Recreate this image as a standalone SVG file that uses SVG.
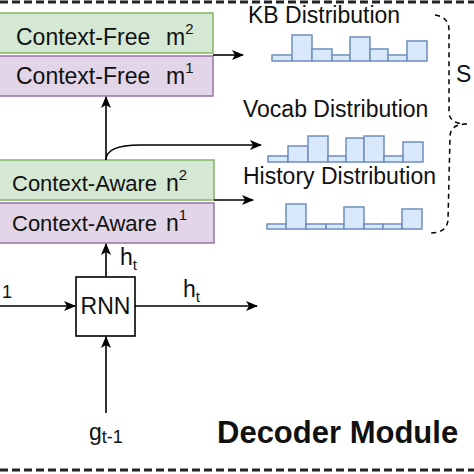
<svg xmlns="http://www.w3.org/2000/svg" width="474" height="474" viewBox="0 0 474 474">
<style>
text{font-family:"Liberation Sans",Arial,sans-serif;fill:#111}
.lbl{font-size:23px}
.sup{font-size:15px}
.free{fill:#d5e8d4;stroke:#82b366;stroke-width:1.5}
.aware{fill:#e1d5e7;stroke:#9673a6;stroke-width:1.5}
.bar{fill:#dae8fc;stroke:#6c8ebf;stroke-width:1.5}
.edge{fill:none;stroke:#000;stroke-width:1.6}
.border{fill:none;stroke:#222;stroke-width:3;stroke-dasharray:8 4}
</style>
<defs>
<marker id="arr" viewBox="0 0 12 10" refX="11" refY="5" markerWidth="12" markerHeight="10" markerUnits="userSpaceOnUse" orient="auto">
<path d="M0,0 L12,5 L0,10 L3,5 z" fill="#000"/>
</marker>
</defs>
<rect width="474" height="474" fill="#fff"/>
<line class="border" x1="0" y1="2" x2="474" y2="2"/>
<line class="border" x1="0" y1="470" x2="474" y2="470"/>

<g id="cf-m2"><rect class="free" x="-2" y="13" width="215" height="40"/><text class="lbl" x="16" y="45">Context-Free<tspan x="166">m</tspan><tspan class="sup" dy="-11">2</tspan></text></g>
<g id="cf-m1"><rect class="aware" x="-2" y="56" width="215" height="40"/><text class="lbl" x="16" y="84">Context-Free<tspan x="166">m</tspan><tspan class="sup" dy="-11">1</tspan></text></g>
<g id="ca-n2"><rect class="free" x="-2" y="160" width="216" height="40"/><text class="lbl" x="12" y="191" style="font-size:22px">Context-Aware<tspan x="166" style="font-size:23px">n</tspan><tspan class="sup" dy="-11">2</tspan></text></g>
<g id="ca-n1"><rect class="aware" x="-2" y="203" width="216" height="40"/><text class="lbl" x="12" y="231" style="font-size:22px">Context-Aware<tspan x="166" style="font-size:23px">n</tspan><tspan class="sup" dy="-11">1</tspan></text></g>
<g id="rnn"><rect x="76" y="277" width="59" height="59" fill="#fff" stroke="#000" stroke-width="1.6"/><text class="lbl" x="105.5" y="314" text-anchor="middle">RNN</text></g>

<g id="kb-dist">
<text class="lbl" x="248" y="23">KB Distribution</text>
<rect class="bar" x="272" y="55" width="20" height="6"/>
<rect class="bar" x="292" y="35" width="20" height="26"/>
<rect class="bar" x="312" y="49" width="20" height="12"/>
<rect class="bar" x="332" y="55" width="18" height="6"/>
<rect class="bar" x="350" y="37" width="20" height="24"/>
<rect class="bar" x="370" y="49" width="18" height="12"/>
<rect class="bar" x="388" y="55" width="19" height="6"/>
<rect class="bar" x="407" y="41" width="20" height="20"/>
</g>
<g id="vocab-dist">
<text class="lbl" x="243" y="117">Vocab Distribution</text>
<rect class="bar" x="268" y="156" width="20" height="6"/>
<rect class="bar" x="288" y="146" width="20" height="16"/>
<rect class="bar" x="308" y="136" width="20" height="26"/>
<rect class="bar" x="328" y="156" width="18" height="6"/>
<rect class="bar" x="346" y="138" width="18" height="24"/>
<rect class="bar" x="364" y="136" width="20" height="26"/>
<rect class="bar" x="384" y="156" width="19" height="6"/>
<rect class="bar" x="403" y="142" width="20" height="20"/>
</g>
<g id="history-dist">
<text class="lbl" x="243" y="184">History Distribution</text>
<rect class="bar" x="267" y="224" width="19" height="5"/>
<rect class="bar" x="286" y="204" width="20" height="25"/>
<rect class="bar" x="306" y="224" width="20" height="5"/>
<rect class="bar" x="326" y="224" width="18" height="5"/>
<rect class="bar" x="344" y="207" width="20" height="22"/>
<rect class="bar" x="364" y="224" width="19" height="5"/>
<rect class="bar" x="383" y="224" width="19" height="5"/>
<rect class="bar" x="402" y="209" width="20" height="20"/>
</g>
<g id="brace">
<path d="M435,15 Q449,17 449,30 L449,112 Q449,124 467,124 M467,124 Q450,124 450,137 L448,220 Q447,233 430,233" fill="none" stroke="#000" stroke-width="1.5" stroke-dasharray="5 4"/>
<text class="lbl" x="456" y="82">S</text>
</g>

<g id="connectors">
<line class="edge" x1="213" y1="55" x2="243" y2="55" marker-end="url(#arr)"/>
<line class="edge" x1="106" y1="160" x2="106" y2="97" marker-end="url(#arr)"/>
<path class="edge" d="M106,160 Q106,145 140,145 L261,145" marker-end="url(#arr)"/>
<line class="edge" x1="214" y1="200" x2="253" y2="200" marker-end="url(#arr)"/>
<line class="edge" x1="106" y1="277" x2="106" y2="244" marker-end="url(#arr)"/>
<line class="edge" x1="0" y1="306" x2="75" y2="306" marker-end="url(#arr)"/>
<line class="edge" x1="135" y1="306" x2="257" y2="306" marker-end="url(#arr)"/>
<line class="edge" x1="106" y1="413" x2="106" y2="337" marker-end="url(#arr)"/>
<text class="lbl" x="120" y="265">h<tspan class="sup" dy="5">t</tspan></text>
<text class="lbl" x="183" y="297">h<tspan class="sup" dy="5">t</tspan></text>
<text x="2" y="298" style="font-size:18px">1</text>
<text class="lbl" x="89" y="440">g<tspan style="font-size:18px" dy="3">t-1</tspan></text>
</g>
<text x="217" y="443" style="font-size:31px;font-weight:bold">Decoder Module</text>
</svg>
